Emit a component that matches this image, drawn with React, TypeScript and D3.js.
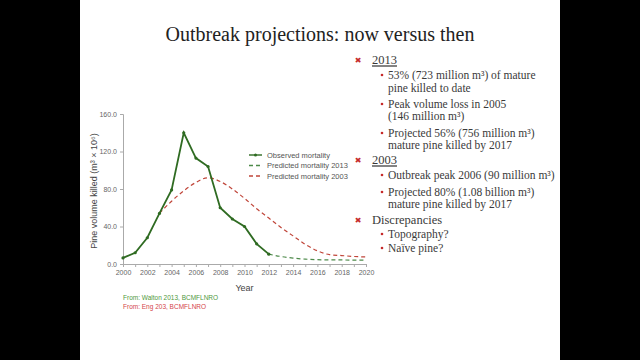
import { useEffect, useRef } from "react";
import * as d3 from "d3";

const W = 640;
const H = 360;
const MARGIN = { top: 114, left: 123, right: 274, bottom: 96 };
const INNER_W = W - MARGIN.left - MARGIN.right;
const INNER_H = H - MARGIN.top - MARGIN.bottom;

const observedYears = [2000, 2001, 2002, 2003, 2004, 2005, 2006, 2007, 2008, 2009, 2010, 2011, 2012];
const observedValues = [6.5, 12, 28, 54, 79, 140, 113, 104, 60, 48, 40, 21.5, 10.5];

const pred2013Years = [2012, 2013, 2014, 2015, 2016, 2017, 2018, 2019, 2020];
const pred2013Values = [10.5, 8, 6.3, 5.2, 4.6, 4.4, 4.3, 4.2, 4.1];

const pred2003Years = [2003, 2004, 2005, 2006, 2007, 2008, 2009, 2010, 2011, 2012, 2013, 2014, 2015, 2016, 2017, 2018, 2019, 2020];
const pred2003Values = [54, 67, 78, 87, 92, 88, 80, 70, 59, 49, 39, 30, 21, 14, 10, 9, 8, 7.5];

const yTicks = [0, 40, 80, 120, 160];
const xTicks = [2000, 2002, 2004, 2006, 2008, 2010, 2012, 2014, 2016, 2018, 2020];

const legendLabels = ["Observed mortality", "Predicted mortality 2013", "Predicted mortality 2003"];
const sourceLabels = ["From: Walton 2013, BCMFLNRO", "From: Eng 203, BCMFLNRO"];

const TITLE = "Outbreak projections: now versus then";

// bullet text: [level, text]
const bullets: [number, string][] = [
  [0, "2013"],
  [1, "53% (723 million m³) of mature"],
  [2, "pine killed to date"],
  [1, "Peak volume loss in 2005"],
  [2, "(146 million m³)"],
  [1, "Projected 56% (756 million m³)"],
  [2, "mature pine killed by 2017"],
  [0, "2003"],
  [1, "Outbreak peak 2006 (90 million m³)"],
  [1, "Projected 80% (1.08 billion m³)"],
  [2, "mature pine killed by 2017"],
  [0, "Discrepancies"],
  [1, "Topography?"],
  [1, "Naïve pine?"],
];
const bulletY = [60, 75, 88, 104, 116, 133, 145, 160, 175, 192, 204, 220, 234, 248];

const GREEN = "#2f6b22";
const GREEN_DASH = "#4d8a4a";
const RED_DASH = "#c0463a";
const SERIF = "'Liberation Serif', 'DejaVu Serif', serif";
const SANS = "'Liberation Sans', Arial, sans-serif";

export default function App() {
  const svgRef = useRef<SVGSVGElement>(null);

  useEffect(() => {
    if (!svgRef.current) return;
    const svg = d3.select(svgRef.current);
    svg.selectAll("*").remove();

    svg.append("rect").attr("width", W).attr("height", H).attr("fill", "#000");
    svg.append("rect").attr("x", 80).attr("width", 480).attr("height", H).attr("fill", "#fff");

    svg.append("text")
      .attr("x", 320).attr("y", 41)
      .attr("text-anchor", "middle")
      .attr("font-family", SERIF)
      .attr("font-size", 20)
      .attr("fill", "#222")
      .text(TITLE);

    const x = d3.scaleLinear().domain([2000, 2020]).range([0, INNER_W]);
    const y = d3.scaleLinear().domain([0, 160]).range([INNER_H, 0]);

    const g = svg.append("g").attr("transform", `translate(${MARGIN.left},${MARGIN.top})`);

    const yAxis = g.append("g")
      .call(d3.axisLeft(y).tickValues(yTicks).tickFormat(d3.format(".1f")).tickSize(3).tickPadding(3));
    const xAxis = g.append("g")
      .attr("transform", `translate(0,${INNER_H})`)
      .call(d3.axisBottom(x).ticks(20).tickFormat((d) => (xTicks.includes(+d) ? String(d) : "")).tickSize(3).tickPadding(3));
    [yAxis, xAxis].forEach((a) => {
      a.selectAll("path,line").attr("stroke", "#aaa");
      a.selectAll("text").attr("fill", "#666").attr("font-family", SANS).attr("font-size", 7);
    });

    g.append("text")
      .attr("transform", `translate(-26,${INNER_H / 2 + 2}) rotate(-90)`)
      .attr("text-anchor", "middle")
      .attr("font-family", SANS)
      .attr("font-size", 9)
      .attr("fill", "#444")
      .text("Pine volume killed (m³ × 10⁶)");

    g.append("text")
      .attr("x", x(2010)).attr("y", INNER_H + 27)
      .attr("text-anchor", "middle")
      .attr("font-family", SANS)
      .attr("font-size", 9)
      .attr("fill", "#444")
      .text("Year");

    const toPts = (xs: number[], vs: number[]) => xs.map((yr, i) => [yr, vs[i]] as [number, number]);

    const smooth = d3.line<[number, number]>().x((d) => x(d[0])).y((d) => y(d[1])).curve(d3.curveMonotoneX);
    const straight = d3.line<[number, number]>().x((d) => x(d[0])).y((d) => y(d[1]));

    g.append("path")
      .attr("d", smooth(toPts(pred2003Years, pred2003Values)))
      .attr("fill", "none").attr("stroke", RED_DASH).attr("stroke-width", 1.2).attr("stroke-dasharray", "4,3");

    g.append("path")
      .attr("d", smooth(toPts(pred2013Years, pred2013Values)))
      .attr("fill", "none").attr("stroke", GREEN_DASH).attr("stroke-width", 1.2).attr("stroke-dasharray", "4,3");

    const obs = toPts(observedYears, observedValues);
    g.append("path")
      .attr("d", straight(obs))
      .attr("fill", "none").attr("stroke", GREEN).attr("stroke-width", 1.8);
    g.selectAll("circle.obs").data(obs).join("circle")
      .attr("cx", (d) => x(d[0])).attr("cy", (d) => y(d[1])).attr("r", 1.6).attr("fill", GREEN);

    // legend
    const lg = svg.append("g").attr("transform", "translate(249,155)");
    const styles = [
      { stroke: GREEN, dash: null as string | null },
      { stroke: GREEN_DASH, dash: "4,3" },
      { stroke: RED_DASH, dash: "4,3" },
    ];
    legendLabels.forEach((label, i) => {
      const row = lg.append("g").attr("transform", `translate(0,${i * 10.5})`);
      const line = row.append("line").attr("x1", 0).attr("x2", 13).attr("stroke", styles[i].stroke).attr("stroke-width", 1.4);
      if (styles[i].dash) line.attr("stroke-dasharray", styles[i].dash!);
      else row.append("circle").attr("cx", 6.5).attr("r", 1.5).attr("fill", GREEN);
      row.append("text").attr("x", 18).attr("dy", "0.35em")
        .attr("font-family", SANS).attr("font-size", 7.5).attr("fill", "#555").text(label);
    });

    // sources
    const srcColors = ["#4e9a3c", "#d4454a"];
    sourceLabels.forEach((s, i) => {
      svg.append("text").attr("x", 123).attr("y", 300 + i * 8.5)
        .attr("font-family", SANS).attr("font-size", 6.5).attr("fill", srcColors[i]).text(s);
    });

    // bullets
    const bg = svg.append("g");
    bullets.forEach(([lvl, txt], i) => {
      const yy = bulletY[i];
      if (lvl === 0) {
        bg.append("text").attr("x", 358).attr("y", yy).attr("dy", "0.35em").attr("text-anchor", "middle")
          .attr("font-family", "'DejaVu Sans', sans-serif").attr("font-size", 8).attr("font-weight", "bold")
          .attr("fill", "#c62a2a").text("✖");
        const t = bg.append("text").attr("x", 372).attr("y", yy).attr("dy", "0.35em")
          .attr("font-family", SERIF).attr("font-size", 12.5).attr("fill", "#3a3a3a").text(txt);
        if (txt !== "Discrepancies") t.attr("text-decoration", "underline");
      } else {
        if (lvl === 1) {
          bg.append("circle").attr("cx", 382).attr("cy", yy).attr("r", 1.3).attr("fill", "#c62a2a");
        }
        bg.append("text").attr("x", 388).attr("y", yy).attr("dy", "0.35em")
          .attr("font-family", SERIF).attr("font-size", 11.5).attr("fill", "#3a3a3a").text(txt);
      }
    });
  }, []);

  return (
    <svg
      ref={svgRef}
      width={W}
      height={H}
      style={{ position: "absolute", left: 0, top: 0, display: "block" }}
    />
  );
}
